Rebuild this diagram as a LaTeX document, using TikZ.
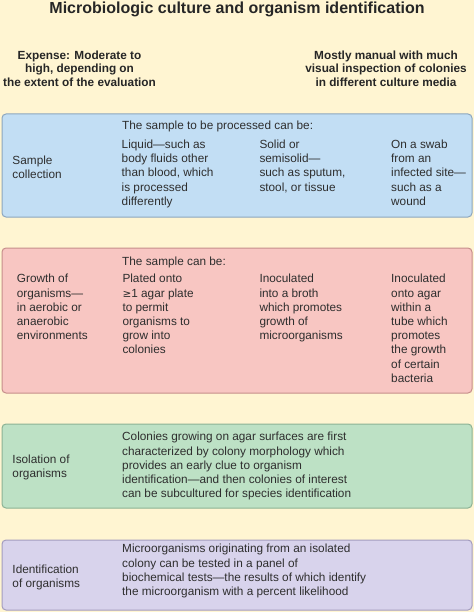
\documentclass[tikz,border=0pt]{standalone}
\usepackage{fontspec}
\setmainfont{Liberation Sans}
\usepackage{tikz}
\usetikzlibrary{positioning}
\definecolor{bgyellow}{HTML}{FFF5D2}
\definecolor{bluefill}{HTML}{C2DEF4}
\definecolor{blueline}{HTML}{8CA6BE}
\definecolor{redfill}{HTML}{F8C6C2}
\definecolor{redline}{HTML}{C68E8B}
\definecolor{greenfill}{HTML}{BDE1C5}
\definecolor{greenline}{HTML}{8CB294}
\definecolor{purplefill}{HTML}{D8D3EC}
\definecolor{purpleline}{HTML}{A39CBE}
\definecolor{inktext}{HTML}{2E2E2E}
\tikzset{
	stagebox/.style={
			rectangle,
			rounded corners=4pt,
			line width=1pt,
			minimum width=470pt,
			inner sep=0pt
		},
	bluebox/.style={
			stagebox,
			draw=blueline,
			fill=bluefill
		},
	redbox/.style={
			stagebox,
			draw=redline,
			fill=redfill
		},
	greenbox/.style={
			stagebox,
			draw=greenline,
			fill=greenfill
		},
	purplebox/.style={
			stagebox,
			draw=purpleline,
			fill=purplefill
		},
	bodytext/.style={
			anchor=north west,
			inner sep=0pt,
			align=left,
			text=inktext,
			font=\fontsize{11.8}{14.2}\selectfont
		},
	headtext/.style={
			anchor=north,
			inner sep=0pt,
			align=center,
			text=black!85,
			font=\bfseries\fontsize{11.8}{13.4}\selectfont
		}
}

\begin{document}
\begin{tikzpicture}[x=1pt, y=-1pt]
\fill[bgyellow] (0,0) rectangle (474,612);
\useasboundingbox (0,0) rectangle (474,612);

% heading
\node[headtext, font=\bfseries\fontsize{16}{18}\selectfont] (title) at (237,1.9) {Microbiologic culture and organism identification};
\node[headtext] (cost) at (79.5,50.8) {Expense: Moderate to\\high, depending on\\the extent of the evaluation};
\node[headtext] (method) at (386,50.8) {Mostly manual with much\\visual inspection of colonies\\in different culture media};

% sample collection
\node[bluebox, minimum height=103pt] (collect) at (237,165.5) {};
\node[bodytext] (collecthead) at (122,121) {The sample to be processed can be:};
\node[bodytext] (collectname) at (12.3,155.8) {Sample\\collection};
\node[bodytext] (liquid) at (121.5,139.8) {Liquid---such as\\body fluids other\\than blood, which\\is processed\\differently};
\node[bodytext] (solid) at (259.3,139.8) {Solid or\\semisolid---\\such as sputum,\\stool, or tissue};
\node[bodytext] (swab) at (391,139.8) {On a swab\\from an\\infected site---\\such as a\\wound};

% growth
\node[redbox, minimum height=145pt] (grow) at (237,320.5) {};
\node[bodytext] (growhead) at (122,257.2) {The sample can be:};
\node[bodytext] (growname) at (16.7,274.2) {Growth of\\organisms---\\in aerobic or\\anaerobic\\environments};
\node[bodytext] (plate) at (122.3,274.2) {Plated onto\\{\fontspec{DejaVu Sans}\fontsize{10.5}{14.2}\selectfont ≥}1 agar plate\\to permit\\organisms to\\grow into\\colonies};
\node[bodytext] (broth) at (259.3,274.2) {Inoculated\\into a broth\\which promotes\\growth of\\microorganisms};
\node[bodytext] (tube) at (391,274.2) {Inoculated\\onto agar\\within a\\tube which\\promotes\\the growth\\of certain\\bacteria};

% isolation
\node[greenbox, minimum height=84pt] (isolate) at (237,466) {};
\node[bodytext] (isolatename) at (12.3,454.8) {Isolation of\\organisms};
\node[bodytext] (colonies) at (122,432.2) {Colonies growing on agar surfaces are first\\characterized by colony morphology which\\provides an early clue to organism\\identification---and then colonies of interest\\can be subcultured for species identification};

% identification
\node[purplebox, minimum height=70pt] (ident) at (237,575) {};
\node[bodytext] (identname) at (12.3,564.8) {Identification\\of organisms};
\node[bodytext] (tests) at (122,544.2) {Microorganisms originating from an isolated\\colony can be tested in a panel of\\biochemical tests---the results of which identify\\the microorganism with a percent likelihood};
\end{tikzpicture}
\end{document}
